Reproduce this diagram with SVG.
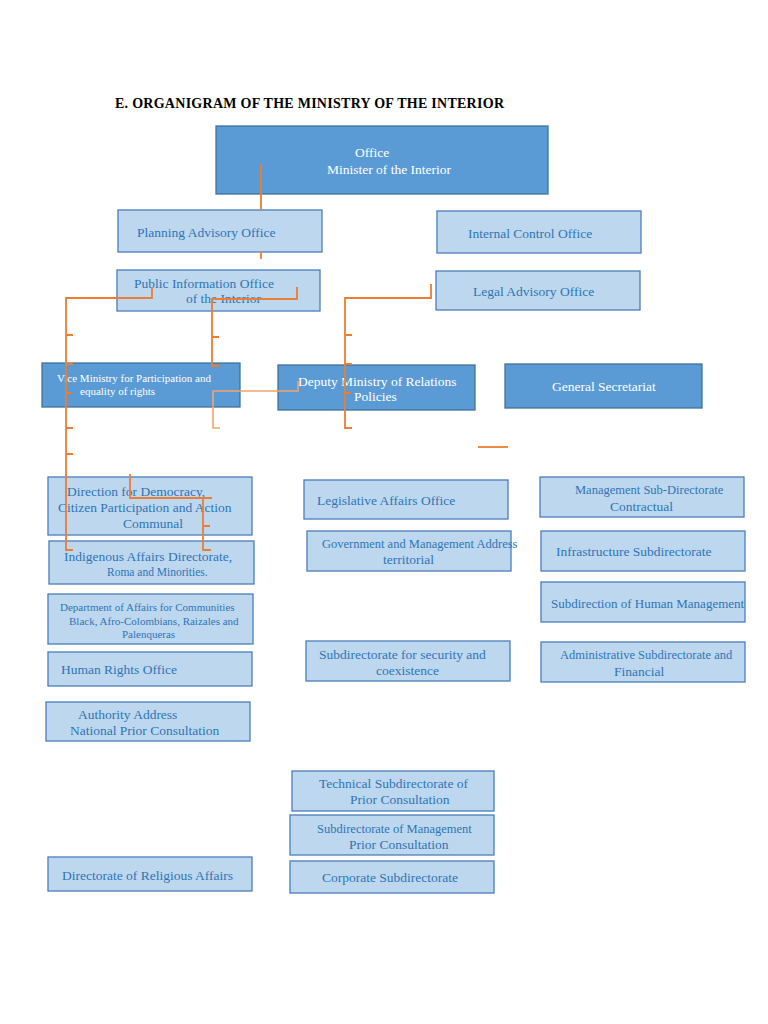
<svg xmlns="http://www.w3.org/2000/svg" width="768" height="1024" viewBox="0 0 768 1024">
<style>
.bg{fill:#ffffff}
.lt{fill:#bdd7ee;stroke:#4a7ebb;stroke-width:1.3}
.dk{fill:#5b9bd5;stroke:#41719c;stroke-width:1.3}
.t{font-family:"Liberation Serif","Times New Roman",serif;font-size:13.5px;fill:#2e75b6}
.m{font-size:12.5px}
.s{font-size:11.5px}
.xs{font-size:11px}
.w{fill:#ffffff}
.title{font-family:"Liberation Serif","Times New Roman",serif;font-size:14px;font-weight:bold;fill:#000000}
.c{fill:none;stroke:#ed7d31;stroke-width:1.8}
.cl{fill:none;stroke:#f4a46e;stroke-width:1.6}
</style>
<rect class="bg" x="0" y="0" width="768" height="1024"/>
<text class="title" x="115" y="108" textLength="389" lengthAdjust="spacing">E. ORGANIGRAM OF THE MINISTRY OF THE INTERIOR</text>

<g id="minister"><rect class="dk" x="216" y="126" width="332" height="68"/><text class="t w" x="355" y="157">Office</text><text class="t w" x="327" y="174">Minister of the Interior</text></g>
<g id="planning"><rect class="lt" x="118" y="210" width="204" height="42"/><text class="t" x="137" y="237">Planning Advisory Office</text></g>
<g id="internal"><rect class="lt" x="437" y="211" width="204" height="42"/><text class="t" x="468" y="238">Internal Control Office</text></g>
<g id="publicinfo"><rect class="lt" x="117" y="270" width="203" height="41"/><text class="t" x="134" y="288">Public Information Office</text><text class="t" x="186" y="303">of  the  Interior</text></g>
<g id="legal"><rect class="lt" x="436" y="271" width="204" height="39"/><text class="t" x="473" y="296">Legal Advisory Office</text></g>
<g id="vice"><rect class="dk" x="42" y="363" width="198" height="44"/><text class="t xs w" x="57" y="382">Vice Ministry for Participation and</text><text class="t xs w" x="80" y="395">equality of rights</text></g>
<g id="deputy"><rect class="dk" x="278" y="365" width="197" height="45"/><text class="t w" x="298" y="386">Deputy Ministry of Relations</text><text class="t w" x="354" y="401">Policies</text></g>
<g id="secretariat"><rect class="dk" x="505" y="364" width="197" height="44"/><text class="t w" x="552" y="391">General Secretariat</text></g>

<g id="democracy"><rect class="lt" x="48" y="477" width="204" height="58"/><text class="t" x="67" y="496">Direction for Democracy,</text><text class="t" x="58" y="512">Citizen Participation and Action</text><text class="t" x="123" y="528">Communal</text></g>
<g id="indigenous"><rect class="lt" x="49" y="541" width="205" height="43"/><text class="t" x="64" y="561">Indigenous Affairs Directorate,</text><text class="t s" x="107" y="576">Roma and Minorities.</text></g>
<g id="afro"><rect class="lt" x="48" y="594" width="205" height="50"/><text class="t xs" x="60" y="611">Department of Affairs for Communities</text><text class="t xs" x="69" y="625">Black, Afro-Colombians, Raizales and</text><text class="t xs" x="122" y="638">Palenqueras</text></g>
<g id="humanrights"><rect class="lt" x="48" y="652" width="204" height="34"/><text class="t" x="61" y="674">Human Rights Office</text></g>
<g id="authority"><rect class="lt" x="46" y="702" width="204" height="39"/><text class="t" x="78" y="719">Authority Address</text><text class="t" x="70" y="735">National Prior Consultation</text></g>
<g id="religious"><rect class="lt" x="48" y="857" width="204" height="34"/><text class="t" x="62" y="880">Directorate of Religious Affairs</text></g>

<g id="legislative"><rect class="lt" x="304" y="480" width="204" height="39"/><text class="t" x="317" y="505">Legislative Affairs Office</text></g>
<g id="government"><rect class="lt" x="307" y="531" width="204" height="40"/><text class="t m" x="322" y="548">Government and Management Address</text><text class="t" x="383" y="564">territorial</text></g>
<g id="security"><rect class="lt" x="306" y="641" width="204" height="40"/><text class="t" x="319" y="659">Subdirectorate for security and</text><text class="t" x="376" y="675">coexistence</text></g>
<g id="technical"><rect class="lt" x="292" y="771" width="202" height="40"/><text class="t" x="319" y="788">Technical Subdirectorate of</text><text class="t" x="350" y="804">Prior Consultation</text></g>
<g id="mgmtprior"><rect class="lt" x="290" y="815" width="204" height="40"/><text class="t m" x="317" y="833">Subdirectorate of Management</text><text class="t" x="349" y="849">Prior Consultation</text></g>
<g id="corporate"><rect class="lt" x="290" y="861" width="204" height="32"/><text class="t" x="322" y="882">Corporate Subdirectorate</text></g>

<g id="contractual"><rect class="lt" x="540" y="477" width="204" height="40"/><text class="t m" x="575" y="494">Management Sub-Directorate</text><text class="t" x="610" y="511">Contractual</text></g>
<g id="infrastructure"><rect class="lt" x="541" y="531" width="204" height="40"/><text class="t" x="556" y="556">Infrastructure Subdirectorate</text></g>
<g id="humanmgmt"><rect class="lt" x="541" y="582" width="204" height="40"/><text class="t" x="551" y="608" style="font-size:13px">Subdirection of Human Management</text></g>
<g id="administrative"><rect class="lt" x="541" y="642" width="204" height="40"/><text class="t m" x="560" y="659">Administrative Subdirectorate and</text><text class="t" x="614" y="676">Financial</text></g>

<g id="connectors">
<path class="c" d="M261 164V210M261 252V259" stroke-width="2.5"/>
<path class="c" d="M152 287V298H66V550H73M66 335H73M66 364H73M66 393H71M66 428H73M66 454H73"/>
<path class="c" d="M297 287V299H212V366H219M212 337H219"/>
<path class="cl" d="M298 381V391H213V428H220"/>
<path class="c" d="M431 284V298H345V428H352M345 335H352M345 364H352M345 393H351"/>
<path class="c" d="M130 474V498H212M203 498V550H211M203 526H210"/>
<path class="c" d="M478 447H508" stroke-width="2"/>
</g>
</svg>
